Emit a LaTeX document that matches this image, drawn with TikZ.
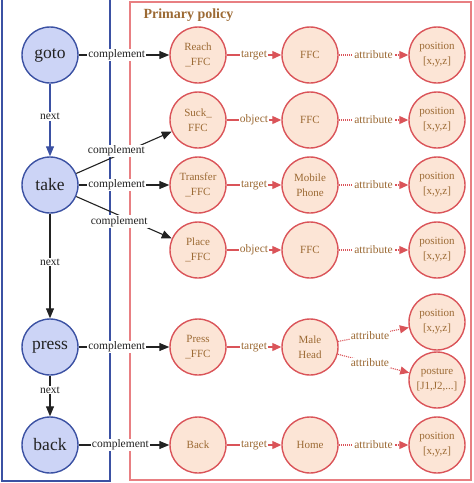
\documentclass[tikz,border=0pt]{standalone}
\usepackage{fontspec}
\setmainfont{Liberation Serif}
\usetikzlibrary{arrows.meta}
\definecolor{bfill}{HTML}{CCD4F6}
\definecolor{bdraw}{HTML}{3B51A3}
\definecolor{ofill}{HTML}{FCE5D6}
\definecolor{odraw}{HTML}{DA5459}
\definecolor{otext}{HTML}{9C6A34}
\definecolor{rframe}{HTML}{E87F82}
\definecolor{dark}{HTML}{222222}
\begin{document}
\begin{tikzpicture}[x=1pt,y=-1pt,
  act/.style={circle, draw=bdraw, fill=bfill, line width=1.4pt, minimum size=56pt, inner sep=0pt, font=\fontsize{17.5}{17.5}\selectfont, text=dark},
  obj/.style={circle, draw=odraw, fill=ofill, line width=1.4pt, minimum size=56pt, inner sep=0pt, font=\fontsize{11}{15}\selectfont, text=otext, align=center},
  comp/.style={-{Triangle[length=10pt,width=8pt]}, line width=1.1pt, draw=dark},
  nxt/.style={comp},
  lbl/.style={fill=white, inner sep=1pt, font=\fontsize{11.5}{11.5}\selectfont, text=dark},
  rel/.style={-{Triangle[length=9pt,width=8pt]}, draw=odraw, line width=1.1pt},
  attr/.style={rel, densely dotted},
  rlbl/.style={fill=white, inner sep=1pt, font=\fontsize{11.5}{11.5}\selectfont, text=otext}]
\useasboundingbox (0,0) rectangle (474,483);
% frames
\draw[bdraw, line width=1.4pt] (2,-2) -- (2,481) -- (110,481) -- (110,-2);
\draw[rframe, line width=1.4pt] (130,2) rectangle (471,480);
\node[font=\bfseries\fontsize{14}{14}\selectfont, text=otext, anchor=west] (title) at (140,15) {Primary policy};
% action nodes
\node[act] (goto) at (50,55) {goto};
\node[act] (take) at (50,185) {take};
\node[act] (press) at (50,347) {press};
\node[act] (back) at (50,445) {back};
% column 2
\node[obj] (reach) at (198,55) {Reach\\\_FFC};
\node[obj] (suck) at (198,120) {Suck\_\\FFC};
\node[obj] (transfer) at (198,185) {Transfer\\\_FFC};
\node[obj] (place) at (198,250) {Place\\\_FFC};
\node[obj] (pressffc) at (198,347) {Press\\\_FFC};
\node[obj] (backo) at (198,445) {Back};
% column 3
\node[obj] (ffc1) at (310,55) {FFC};
\node[obj] (ffc2) at (310,120) {FFC};
\node[obj] (phone) at (310,185) {Mobile\\Phone};
\node[obj] (ffc4) at (310,250) {FFC};
\node[obj] (head) at (310,347) {Male\\Head};
\node[obj] (home) at (310,445) {Home};
% column 4
\node[obj] (p1) at (437,55) {position\\{[x,y,z]}};
\node[obj] (p2) at (437,120) {position\\{[x,y,z]}};
\node[obj] (p3) at (437,185) {position\\{[x,y,z]}};
\node[obj] (p4) at (437,250) {position\\{[x,y,z]}};
\node[obj] (p5) at (437,322) {position\\{[x,y,z]}};
\node[obj] (post) at (437,380) {posture\\{[J1,J2,...]}};
\node[obj] (p6) at (437,445) {position\\{[x,y,z]}};
% next edges
\draw[nxt, draw=bdraw] (goto) -- node[lbl, pos=0.45] {next} (take);
\draw[nxt] (take) -- node[lbl, pos=0.46] {next} (press);
\draw[nxt] (press) -- node[lbl, pos=0.35] {next} (back);
% complement edges
\draw[comp] (goto) -- node[lbl, pos=0.42] {complement} (reach);
\draw[comp] (take) -- node[lbl, pos=0.42, yshift=5pt] {complement} (suck);
\draw[comp] (take) -- node[lbl, pos=0.42] {complement} (transfer);
\draw[comp] (take) -- node[lbl, pos=0.45, yshift=-6pt] {complement} (place);
\draw[comp] (press) -- node[lbl, pos=0.42] {complement} (pressffc);
\draw[comp] (back) -- node[lbl, pos=0.46] {complement} (backo);
% target/object edges
\draw[rel] (reach) -- node[rlbl] {target} (ffc1);
\draw[rel] (suck) -- node[rlbl] {object} (ffc2);
\draw[rel] (transfer) -- node[rlbl] {target} (phone);
\draw[rel] (place) -- node[rlbl] {object} (ffc4);
\draw[rel] (pressffc) -- node[rlbl] {target} (head);
\draw[rel] (backo) -- node[rlbl] {target} (home);
% attribute edges
\draw[attr] (ffc1) -- node[rlbl] {attribute} (p1);
\draw[attr] (ffc2) -- node[rlbl] {attribute} (p2);
\draw[attr] (phone) -- node[rlbl] {attribute} (p3);
\draw[attr] (ffc4) -- node[rlbl] {attribute} (p4);
\draw[attr] (head) -- node[rlbl, pos=0.45] {attribute} (p5);
\draw[attr] (head) -- node[rlbl, pos=0.45] {attribute} (post);
\draw[attr] (home) -- node[rlbl] {attribute} (p6);
\end{tikzpicture}
\end{document}
